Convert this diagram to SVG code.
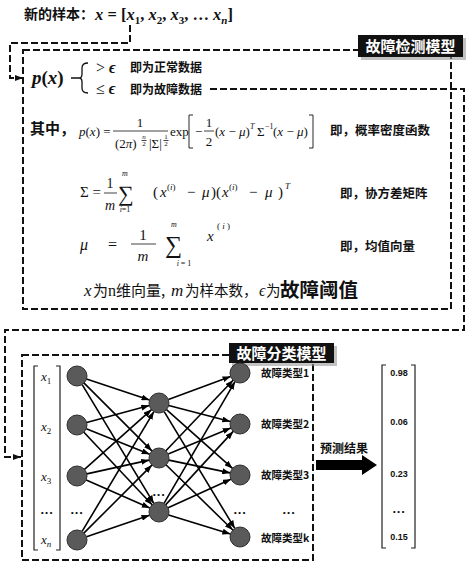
<svg xmlns="http://www.w3.org/2000/svg" width="474" height="568" viewBox="0 0 474 568">
<defs>
<style>
.d{fill:none;stroke:#111;stroke-width:2;stroke-dasharray:7 3}
.cn{font-family:"Noto Sans CJK SC","Noto Sans",sans-serif;font-weight:bold;fill:#111}
.cr{font-family:"Noto Sans CJK SC","Noto Sans",sans-serif;fill:#111}
.m{font-family:"Liberation Serif",serif;fill:#111}
.i{font-style:italic}
.n{fill:#5a5a5a;stroke:#2e2e2e;stroke-width:1}
.e{stroke:#000;stroke-width:1.6;fill:none;marker-end:url(#ah)}
.lb{fill:#fff;font-family:"Noto Sans CJK SC",sans-serif;font-weight:bold;font-size:15px}
.fl{stroke:#111;stroke-width:0.8}
.v{font-family:"Liberation Sans",sans-serif;font-weight:bold;font-size:9px;fill:#111}
.dots{font-family:"Liberation Sans",sans-serif;font-weight:bold;font-size:13px;fill:#111}
</style>
<marker id="ah" viewBox="0 0 8 6" refX="8" refY="3" markerWidth="8" markerHeight="6" markerUnits="userSpaceOnUse" orient="auto"><path d="M0,0 L8,3 L0,6 z" fill="#000"/></marker>
<marker id="ad" viewBox="0 0 8 6" refX="8" refY="3" markerWidth="8" markerHeight="6" markerUnits="userSpaceOnUse" orient="auto"><path d="M0,0 L8,3 L0,6 z" fill="#111"/></marker>
</defs>

<!-- title -->
<g id="sample">
<text x="24" y="19" class="cn" font-size="14">新的样本：</text>
<text x="95" y="20" class="m" font-weight="bold" font-size="16.5"><tspan class="i">x</tspan> = [<tspan class="i">x</tspan><tspan font-size="11" dy="4">1</tspan><tspan dy="-4">, </tspan><tspan class="i">x</tspan><tspan font-size="11" dy="4">2</tspan><tspan dy="-4">, </tspan><tspan class="i">x</tspan><tspan font-size="11" dy="4">3</tspan><tspan dy="-4">, … </tspan><tspan class="i">x</tspan><tspan font-size="11" dy="4" class="i">n</tspan><tspan dy="-4">]</tspan></text>
</g>

<!-- detection model -->
<g id="detection">
<rect x="23" y="50" width="428" height="259" class="d"/>
<rect x="361" y="38" width="105" height="22" fill="#999" opacity="0.6"/>
<rect x="358" y="35" width="105" height="22" fill="#111"/>
<text x="410.5" y="52" text-anchor="middle" class="lb">故障检测模型</text>

<text x="32" y="84" class="m i" font-weight="bold" font-size="19">p<tspan font-style="normal">(</tspan>x<tspan font-style="normal">)</tspan></text>
<path d="M71,78 H80 M88,63 Q82,63 82,68 V74 Q82,78 79,78 Q82,78 82,82 V88 Q82,93 88,93" fill="none" stroke="#111" stroke-width="1.3"/>
<text x="96" y="73" class="m" font-size="16">&gt; <tspan class="i" font-weight="bold">ϵ</tspan></text>
<text x="96" y="94" class="m" font-size="16">≤ <tspan class="i" font-weight="bold">ϵ</tspan></text>
<text x="130" y="72" class="cn" font-size="12">即为正常数据</text>
<text x="130" y="94" class="cn" font-size="12">即为故障数据</text>

<text x="30" y="134" class="cn" font-size="15">其中，</text>

<!-- p(x) formula -->
<text x="79" y="136" class="m" font-size="13"><tspan class="i">p</tspan>(<tspan class="i">x</tspan>) =</text>
<text x="140" y="127" class="m" font-size="13" text-anchor="middle">1</text>
<line x1="113" y1="131" x2="168" y2="131" class="fl"/>
<text x="115" y="148" class="m" font-size="13">(2<tspan class="i">π</tspan>)</text>
<text x="144" y="139" class="m i" font-size="7" text-anchor="middle">n</text>
<line x1="141.5" y1="140.5" x2="146.5" y2="140.5" class="fl" stroke-width="0.5"/>
<text x="144" y="146" class="m" font-size="7" text-anchor="middle">2</text>
<text x="149" y="148" class="m" font-size="13">|Σ|</text>
<text x="166" y="139" class="m" font-size="7" text-anchor="middle">1</text>
<line x1="163.5" y1="140.5" x2="168.5" y2="140.5" class="fl" stroke-width="0.5"/>
<text x="166" y="146" class="m" font-size="7" text-anchor="middle">2</text>
<text x="170" y="136" class="m" font-size="13">exp</text>
<path d="M193,115 H189 V148 H193" fill="none" stroke="#111" stroke-width="0.9"/>
<text x="195" y="136" class="m" font-size="13">−</text>
<text x="209" y="127" class="m" font-size="13" text-anchor="middle">1</text>
<line x1="204" y1="131" x2="214" y2="131" class="fl"/>
<text x="209" y="146" class="m" font-size="13" text-anchor="middle">2</text>
<text x="215" y="136" class="m" font-size="13">(<tspan class="i">x</tspan> − <tspan class="i">μ</tspan>)</text>
<text x="250" y="129" class="m i" font-size="8">T</text>
<text x="257" y="136" class="m" font-size="13">Σ</text>
<text x="265" y="129" class="m" font-size="8">−1</text>
<text x="273" y="136" class="m" font-size="13">(<tspan class="i">x</tspan> − <tspan class="i">μ</tspan>)</text>
<path d="M309,115 H313 V148 H309" fill="none" stroke="#111" stroke-width="0.9"/>
<text x="330" y="135" class="cn" font-size="12.5">即，概率密度函数</text>

<!-- Sigma formula -->
<text x="80" y="197" class="m" font-size="15">Σ =</text>
<text x="110" y="188" class="m" font-size="14" text-anchor="middle">1</text>
<line x1="104" y1="193" x2="117" y2="193" class="fl"/>
<text x="110" y="210" class="m i" font-size="14" text-anchor="middle">m</text>
<text x="118" y="201" class="m" font-size="22">∑</text>
<text x="125" y="176" class="m i" font-size="8" text-anchor="middle">m</text>
<text x="125" y="212" class="m" font-size="8" text-anchor="middle"><tspan class="i">i</tspan>=1</text>
<text x="153" y="197" class="m" font-size="15">(</text>
<text x="160" y="197" class="m i" font-size="15">x</text>
<text x="167" y="190" class="m" font-size="9">(<tspan class="i">i</tspan>)</text>
<text x="187" y="197" class="m" font-size="15">−</text>
<text x="202" y="197" class="m i" font-size="15">μ</text>
<text x="211" y="197" class="m" font-size="15">)(</text>
<text x="222" y="197" class="m i" font-size="15">x</text>
<text x="229" y="190" class="m" font-size="9">(<tspan class="i">i</tspan>)</text>
<text x="249" y="197" class="m" font-size="15">−</text>
<text x="265" y="197" class="m i" font-size="15">μ</text>
<text x="278" y="197" class="m" font-size="15">)</text>
<text x="285" y="189" class="m i" font-size="9">T</text>
<text x="340" y="198" class="cn" font-size="12.5">即，协方差矩阵</text>

<!-- mu formula -->
<text x="80" y="250" class="m i" font-size="16">μ</text>
<text x="108" y="250" class="m" font-size="16">=</text>
<text x="143" y="240" class="m" font-size="15" text-anchor="middle">1</text>
<line x1="131" y1="244" x2="156" y2="244" class="fl"/>
<text x="143" y="261" class="m i" font-size="15" text-anchor="middle">m</text>
<text x="165" y="253" class="m" font-size="24">∑</text>
<text x="174" y="227" class="m i" font-size="8" text-anchor="middle">m</text>
<text x="184" y="266" class="m" font-size="8" text-anchor="middle"><tspan class="i">i</tspan> = 1</text>
<text x="207" y="241" class="m i" font-size="15">x</text>
<text x="217" y="229" class="m" font-size="9">( <tspan class="i">i</tspan> )</text>
<text x="340" y="251" class="cn" font-size="12.5">即，均值向量</text>

<!-- note -->
<text x="84" y="296" class="m i" font-size="17">x</text>
<text x="93" y="296" class="cr" font-size="15">为<tspan class="m" font-size="16">n</tspan>维向量,</text>
<text x="171" y="296" class="m i" font-size="17">m</text>
<text x="185" y="296" class="cr" font-size="14.5">为样本数，</text>
<text x="259" y="296" class="m i" font-size="16">ϵ</text>
<text x="266" y="296" class="cr" font-size="14.5">为</text>
<text x="280" y="297" class="cn" font-size="19.5">故障阈值</text>
</g>

<!-- classification model -->
<g id="classification">
<rect x="22" y="355" width="291" height="205" class="d"/>
<rect x="232" y="346" width="105" height="20" fill="#999" opacity="0.6"/>
<rect x="229" y="343" width="105" height="20" fill="#111"/>
<text x="281.5" y="359" text-anchor="middle" class="lb">故障分类模型</text>

<path d="M38,366 H34 V550 H38 M56,366 H60 V550 H56" fill="none" stroke="#222" stroke-width="1.2"/>
<text x="41" y="381" class="m i" font-size="13">x<tspan font-size="9" dy="3" font-style="normal">1</tspan></text>
<text x="41" y="431" class="m i" font-size="13">x<tspan font-size="9" dy="3" font-style="normal">2</tspan></text>
<text x="41" y="481" class="m i" font-size="13">x<tspan font-size="9" dy="3" font-style="normal">3</tspan></text>
<text x="47" y="517" class="dots" text-anchor="middle">···</text>
<text x="41" y="544" class="m i" font-size="13">x<tspan font-size="9" dy="3">n</tspan></text>
<text x="77" y="517" class="dots" text-anchor="middle">···</text>
<text x="159" y="499" class="dots" text-anchor="middle">···</text>
<text x="240" y="517" class="dots" text-anchor="middle">···</text>
<text x="289" y="517" class="dots" text-anchor="middle">···</text>

<text x="261" y="377" class="cn" font-size="10.5">故障类型1</text>
<text x="261" y="428" class="cn" font-size="10.5">故障类型2</text>
<text x="261" y="479" class="cn" font-size="10.5">故障类型3</text>
<text x="261" y="542" class="cn" font-size="10.5">故障类型k</text>
</g>

<g id="edges">
<path class="e" d="M86.5,379.1 L149.5,399.9"/>
<path class="e" d="M84.1,383.1 L151.9,450.9"/>
<path class="e" d="M82.2,384.6 L153.8,503.4"/>
<path class="e" d="M86.7,422.4 L149.3,405.6"/>
<path class="e" d="M86.3,428.7 L149.7,454.3"/>
<path class="e" d="M83.9,432.3 L152.1,504.7"/>
<path class="e" d="M84.5,469.4 L151.5,409.6"/>
<path class="e" d="M86.8,473.9 L149.2,460.1"/>
<path class="e" d="M86.2,480.0 L149.8,508.0"/>
<path class="e" d="M82.1,531.4 L153.9,411.6"/>
<path class="e" d="M84.1,532.9 L151.9,465.1"/>
<path class="e" d="M86.5,536.8 L149.5,515.2"/>
<path class="e" d="M168.4,399.5 L230.6,376.5"/>
<path class="e" d="M168.7,405.5 L230.3,421.5"/>
<path class="e" d="M166.5,409.6 L232.5,468.4"/>
<path class="e" d="M164.2,411.6 L234.8,528.4"/>
<path class="e" d="M165.9,450.8 L233.1,380.2"/>
<path class="e" d="M168.2,454.1 L230.8,427.9"/>
<path class="e" d="M168.8,460.1 L230.2,472.9"/>
<path class="e" d="M166.2,465.0 L232.8,530.0"/>
<path class="e" d="M164.0,503.4 L235.0,381.6"/>
<path class="e" d="M165.8,504.6 L233.2,431.4"/>
<path class="e" d="M168.1,507.8 L230.9,479.2"/>
<path class="e" d="M168.6,515.0 L230.4,534.0"/>
</g>

<g id="nodes">
<circle id="in1" cx="77" cy="376" r="10" class="n"/>
<circle id="in2" cx="77" cy="425" r="10" class="n"/>
<circle id="in3" cx="77" cy="476" r="10" class="n"/>
<circle id="inn" cx="77" cy="540" r="10" class="n"/>
<circle id="h1" cx="159" cy="403" r="10" class="n"/>
<circle id="h2" cx="159" cy="458" r="10" class="n"/>
<circle id="h3" cx="159" cy="512" r="10" class="n"/>
<circle id="o1" cx="240" cy="373" r="10" class="n"/>
<circle id="o2" cx="240" cy="424" r="10" class="n"/>
<circle id="o3" cx="240" cy="475" r="10" class="n"/>
<circle id="ok" cx="240" cy="537" r="10" class="n"/>
</g>

<g id="result">
<text x="344" y="453" class="cn" font-size="12" text-anchor="middle">预测结果</text>
<path d="M316,460 H362 V455 L377,465 L362,475 V470 H316 Z" fill="#000"/>
<path d="M386,365 H382 V548 H386 M411,365 H415 V548 H411" fill="none" stroke="#222" stroke-width="1.2"/>
<text x="399" y="376" class="v" text-anchor="middle">0.98</text>
<text x="399" y="425" class="v" text-anchor="middle">0.06</text>
<text x="399" y="477" class="v" text-anchor="middle">0.23</text>
<text x="399" y="516" class="dots" text-anchor="middle">···</text>
<text x="399" y="540" class="v" text-anchor="middle">0.15</text>
</g>

<g id="connectors">
<path class="d" d="M130,25 V43 H10 V78 H23" marker-end="url(#ad)"/>
<path class="d" d="M210,89 H464 V330 H5 V457 H21" marker-end="url(#ad)"/>
</g>
</svg>
